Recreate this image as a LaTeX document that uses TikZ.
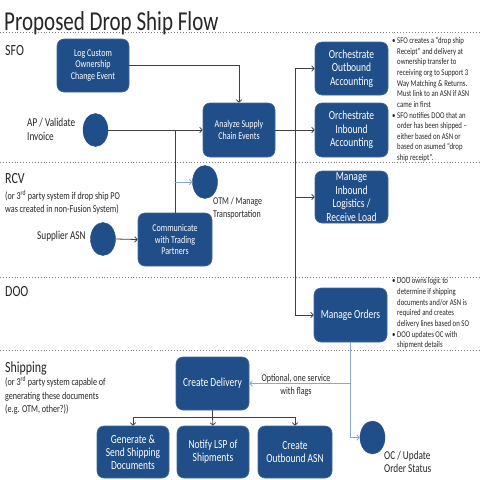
\documentclass[tikz,border=0pt]{standalone}
\usepackage{fontspec}
\setmainfont{Carlito}[FakeStretch=0.77]
\usetikzlibrary{arrows.meta,shapes.geometric}
\definecolor{boxblue}{RGB}{31,78,136}
\definecolor{linegray}{RGB}{64,64,64}
\definecolor{lightblue}{RGB}{140,168,208}
\definecolor{txt}{RGB}{38,38,38}
\newcommand\fs[2]{\fontsize{#1}{#2}\selectfont}
\newcommand\bl{\makebox[5pt][l]{•}}
\newcommand\ind{\hspace*{5pt}}
\begin{document}
\begin{tikzpicture}[x=1pt,y=-1pt,
  box/.style={rounded corners=7pt, fill=boxblue, draw=boxblue!85!white, line width=0.6pt,
    text=white, align=center, inner sep=0pt, minimum width=73pt, minimum height=53pt,
    font=\fs{12.3}{13.5}},
  smallbox/.style={box, font=\fs{10.4}{11.8}},
  dot/.style={ellipse, fill=boxblue, draw=boxblue, minimum width=25pt, minimum height=33pt, inner sep=0pt},
  conn/.style={draw=linegray, line width=0.8pt, -{Straight Barb[length=2.5pt,width=5.5pt]}},
  lconn/.style={conn, draw=lightblue},
  plainline/.style={draw=linegray, line width=0.8pt},
  sep/.style={draw=gray, dotted, line width=0.9pt},
  lbl/.style={text=txt, inner sep=0pt, align=left},
  sect/.style={lbl, font=\fs{15.5}{18}},
  sub/.style={lbl, font=\fs{10.5}{13.5}},
  bul/.style={lbl, font=\fs{8.8}{10.64}},
  note/.style={lbl, font=\fs{12}{14}},
]
\path[use as bounding box, fill=white] (0,0) rectangle (480,480);

% separators
\path[sep] (0,32.5) -- (480,32.5);
\path[sep] (0,162.5) -- (480,162.5);
\path[sep] (0,277) -- (480,277);
\path[sep] (0,350) -- (480,350);

% title and section labels
\node[lbl, anchor=base west, font=\fs{27.3}{30}] (title) at (4,30.5) {Proposed Drop Ship Flow};
\node[sect, anchor=base west] (sfo) at (5,55) {SFO};
\node[sect, anchor=base west] (rcv) at (5,183) {RCV};
\node[sub, anchor=north west] (rcvsub) at (5,190) {(or 3\textsuperscript{rd} party system if drop ship PO\\was created in non-Fusion System)};
\node[sect, anchor=base west] (doo) at (5,296) {DOO};
\node[sect, anchor=base west] (ship) at (5,372) {Shipping};
\node[sub, anchor=north west] (shipsub) at (5,376.5) {(or 3\textsuperscript{rd} party system capable of\\generating these documents\\(e.g. OTM, other?))};

% boxes
\node[smallbox, minimum width=72pt] (log) at (93,65.5) {Log Custom\\Ownership\\Change Event};
\node[smallbox, minimum width=72pt, minimum height=54pt, font=\fs{10.4}{12.5}] (analyze) at (239,130) {Analyze Supply\\Chain Events};
\node[box] (oout) at (351.5,68.5) {Orchestrate\\Outbound\\Accounting};
\node[box, minimum height=54pt] (oin) at (351.5,130) {Orchestrate\\Inbound\\Accounting};
\node[box, minimum height=52pt, font=\fs{12.3}{13.6}] (mil) at (351.5,197) {Manage\\Inbound\\Logistics /\\Receive Load};
\node[smallbox, minimum width=74pt] (comm) at (175,239.5) {Communicate\\with Trading\\Partners};
\node[box, minimum height=54pt] (mo) at (350.5,315) {Manage Orders};
\node[box] (cd) at (212.5,383.5) {Create Delivery};
\node[box, minimum width=72pt, minimum height=52pt, font=\fs{12.3}{13}] (gen) at (133,452) {Generate \&\\Send Shipping\\Documents};
\node[box, minimum width=72pt, minimum height=52pt, font=\fs{12.3}{13}] (notify) at (213,452) {Notify LSP of\\Shipments};
\node[box, minimum width=74pt, minimum height=52pt, font=\fs{12.3}{13}] (asn) at (295,452) {Create\\Outbound ASN};

% circles
\node[dot] (ap) at (95.5,130) {};
\node[dot] (otm) at (205,182) {};
\node[dot] (sup) at (103,239) {};
\node[dot] (oc) at (372.5,437.5) {};

% circle labels
\node[note, anchor=north west] (aplbl) at (27,117.5) {AP / Validate\\Invoice};
\node[sub, anchor=north west, font=\fs{10.4}{12.5}] (otmlbl) at (213,197.5) {OTM / Manage\\Transportation};
\node[note, anchor=base west] (suplbl) at (37,239.3) {Supplier ASN};
\node[note, anchor=north west, font=\fs{12}{13.5}] (oclbl) at (384,450.5) {OC / Update\\Order Status};

% bullet notes
\node[bul, anchor=north west] (sfonote) at (392,37) {\bl SFO creates a “drop ship\\
\ind Receipt” and delivery at\\
\ind ownership transfer to\\
\ind receiving org to Support 3\\
\ind Way Matching \& Returns.\\
\ind Must link to an ASN if ASN\\
\ind came in first\\
\bl SFO notifies DOO that an\\
\ind order has been shipped –\\
\ind either based on ASN or\\
\ind based on asumed “drop\\
\ind ship receipt”.};
\node[bul, anchor=north west] (doonote) at (392,277.5) {\bl DOO owns logic to\\
\ind determine if shipping\\
\ind documents and/or ASN is\\
\ind required and creates\\
\ind delivery lines based on SO\\
\bl DOO updates OC with\\
\ind shipment details};

% connectors SFO
\draw[conn] (log.east) -| (analyze.north);
\draw[conn] (ap.east) -- (analyze.west);
\coordinate (cj) at (comm.north |- ap.east);
\draw[plainline] (comm.north) -- (cj);
\coordinate (otmj) at (comm.north |- otm.west);
\draw[lconn] (otmj) -- (otm.west);
\draw[conn] (sup.east) -- (comm.west);

% bus to the right
\coordinate (bus) at (295,130);
\draw[conn] (analyze.east) -- (oin.west);
\draw[conn] (bus) |- (oout.west);
\draw[conn] (bus) |- (mil.west);
\draw[conn] (bus) |- (mo.west);

% DOO to shipping
\draw[lconn] (mo.south) |- (oc.west);
\coordinate (cdj) at (mo.south |- cd.east);
\draw[lconn] (cdj) -- (cd.east);
\node[lbl, font=\fs{10.4}{13}, align=center, anchor=north] (optlbl) at (296,374) {Optional, one service\\with flags};

% shipping fan-out
\draw[plainline] (cd.south) -- ++(0,7) coordinate (sj);
\draw[conn] (sj) -| (gen.north);
\draw[conn] (sj) -- (notify.north);
\draw[conn] (sj) -| (asn.north);
\end{tikzpicture}
\end{document}
